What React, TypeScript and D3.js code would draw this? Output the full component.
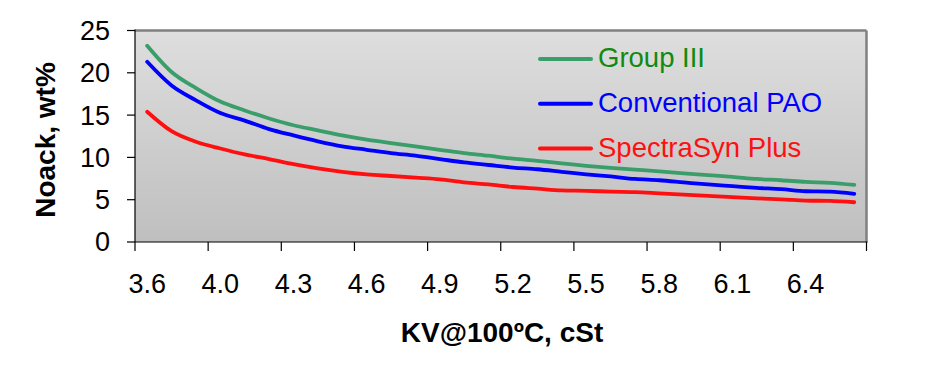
import React from "react";
import * as d3 from "d3";

const tickLabels = ["3.6", "4.0", "4.3", "4.6", "4.9", "5.2", "5.5", "5.8", "6.1", "6.4"];
const yTicks = [0, 5, 10, 15, 20, 25];
const seriesNames = ["Group III", "Conventional PAO", "SpectraSyn Plus"];
const groupIII = [23.2, 20.1, 18.2, 16.6, 15.55, 14.6, 13.8, 13.2, 12.6, 12.1, 11.7, 11.3, 10.9, 10.5, 10.2, 9.85, 9.6, 9.3, 9.0, 8.75, 8.55, 8.35, 8.1, 7.9, 7.7, 7.45, 7.3, 7.1, 7.0, 6.75];
const conventionalPAO = [21.3, 18.5, 16.75, 15.25, 14.35, 13.35, 12.6, 11.9, 11.3, 10.9, 10.5, 10.2, 9.8, 9.4, 9.1, 8.8, 8.6, 8.3, 8.0, 7.75, 7.45, 7.3, 7.05, 6.8, 6.6, 6.4, 6.25, 6.0, 5.95, 5.7];
const spectraSynPlus = [15.4, 13.1, 11.85, 11.05, 10.35, 9.8, 9.2, 8.7, 8.3, 8.0, 7.8, 7.6, 7.4, 7.05, 6.8, 6.5, 6.3, 6.1, 6.05, 5.95, 5.9, 5.75, 5.6, 5.45, 5.3, 5.15, 5.05, 4.9, 4.85, 4.7];

const lineColors = ["#3a9e6b", "#0000ff", "#ff1010"];
const textColors = ["#108a10", "#0000ff", "#ff1010"];

export default function App() {
  const W = 945, H = 375;
  const left = 135, right = 866.5, top = 30.5, bottom = 242;
  const n = groupIII.length;
  const x = d3.scaleLinear().domain([0, n]).range([left, right]);
  const y = d3.scaleLinear().domain([0, 25]).range([bottom, top]);
  const line = d3
    .line<number>()
    .x((_, i) => x(i + 0.5))
    .y((d) => y(d))
    .curve(d3.curveMonotoneX);
  const series = [groupIII, conventionalPAO, spectraSynPlus];
  const xTickIdx = d3.range(0, n + 1, 3);
  const font = "'Liberation Sans', Arial, sans-serif";

  return (
    <svg width={W} height={H} style={{ position: "absolute", left: 0, top: 0, background: "#fff" }} fontFamily={font}>
      <defs>
        <linearGradient id="bg" x1="0" y1="0" x2="0" y2="1">
          <stop offset="0" stopColor="#dedede" />
          <stop offset="1" stopColor="#bfbfbf" />
        </linearGradient>
      </defs>
      <rect x={left} y={top} width={right - left} height={bottom - top} fill="url(#bg)" />
      <line x1={left} x2={right} y1={top} y2={top} stroke="#808080" strokeWidth={2.5} />
      <line x1={right} x2={right} y1={top} y2={bottom} stroke="#808080" strokeWidth={2.5} />
      {series.map((s, k) => (
        <path key={k} d={line(s) || ""} fill="none" stroke={lineColors[k]} strokeWidth={3.8} strokeLinejoin="round" strokeLinecap="round" />
      ))}
      <line x1={left} x2={left} y1={top - 1} y2={bottom} stroke="#000" strokeWidth={1.2} />
      <line x1={left} x2={right + 1} y1={bottom} y2={bottom} stroke="#000" strokeWidth={1.2} />
      {yTicks.map((t) => (
        <g key={t}>
          <line x1={left - 8} x2={left} y1={y(t)} y2={y(t)} stroke="#000" strokeWidth={1.2} />
          <text x={110} y={y(t)} dy="0.35em" textAnchor="end" fontSize={27} fill="#000">
            {t}
          </text>
        </g>
      ))}
      {xTickIdx.map((i) => (
        <line key={i} x1={x(i)} x2={x(i)} y1={bottom} y2={bottom + 9} stroke="#000" strokeWidth={1.2} />
      ))}
      {tickLabels.map((lab, k) => (
        <text key={lab} x={x(k * 3 + 0.5)} y={293} textAnchor="middle" fontSize={27} fill="#000">
          {lab}
        </text>
      ))}
      <text x={502} y={341.5} textAnchor="middle" fontSize={28} fontWeight="bold" fill="#000">
        KV@100ºC, cSt
      </text>
      <text transform="translate(55,140) rotate(-90)" textAnchor="middle" fontSize={28} fontWeight="bold" fill="#000">
        Noack, wt%
      </text>
      {seriesNames.map((name, k) => (
        <g key={name}>
          <line x1={540} x2={591} y1={59 + k * 44.7} y2={59 + k * 44.7} stroke={lineColors[k]} strokeWidth={4} strokeLinecap="round" />
          <text x={598} y={66.7 + k * 45} fontSize={27.5} fill={textColors[k]}>
            {name}
          </text>
        </g>
      ))}
    </svg>
  );
}
